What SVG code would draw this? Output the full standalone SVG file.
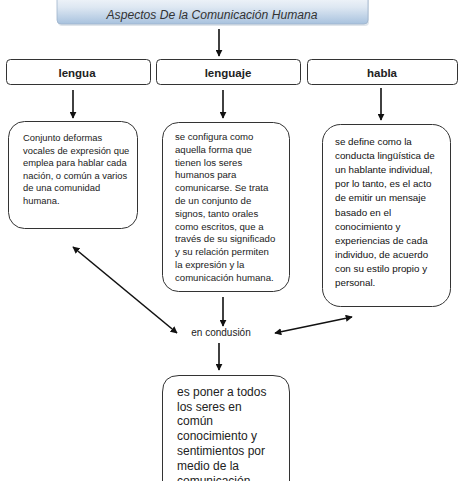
<svg xmlns="http://www.w3.org/2000/svg" width="474" height="481" viewBox="0 0 474 481">
<defs>
<linearGradient id="tg" x1="0" y1="0" x2="0" y2="1">
<stop offset="0" stop-color="#f7f9fc"/>
<stop offset="0.45" stop-color="#dde7f2"/>
<stop offset="1" stop-color="#a8c2de"/>
</linearGradient>
<marker id="ah" viewBox="0 0 10 10" refX="9" refY="5" markerWidth="7" markerHeight="7" markerUnits="userSpaceOnUse" orient="auto-start-reverse">
<path d="M0,0 L10,5 L0,10 z" fill="#111"/>
</marker>
<style>
.box{fill:#fff;stroke:#333;stroke-width:1}
.lbl{font-family:"Liberation Sans",Arial,sans-serif;font-size:11.5px;font-weight:bold;fill:#222;text-anchor:middle}
.t1{font-family:"Liberation Sans",Arial,sans-serif;font-size:9.4px;fill:#222}
.t2{font-family:"Liberation Sans",Arial,sans-serif;font-size:9.6px;fill:#222}
.t3{font-family:"Liberation Sans",Arial,sans-serif;font-size:9.8px;fill:#111}
.t4{font-family:"Liberation Sans",Arial,sans-serif;font-size:12px;fill:#222}
.cn{stroke:#111;stroke-width:1.6;fill:none}
</style>
</defs>
<rect width="474" height="481" fill="#fff"/>

<g id="title">
<rect x="58" y="-6" width="311" height="32" rx="4" fill="#c9d3de" opacity="0.6"/>
<rect x="57" y="-6" width="311" height="30" rx="4" fill="url(#tg)" stroke="#9fb4cc" stroke-width="0.8"/>
<text x="212" y="19" font-family="'Liberation Sans',Arial,sans-serif" font-size="12.5" font-style="italic" fill="#333" text-anchor="middle" textLength="211" lengthAdjust="spacingAndGlyphs">Aspectos De la Comunicación Humana</text>
</g>

<g id="lengua">
<rect class="box" x="6.5" y="59.5" width="144" height="25" rx="4"/>
<text class="lbl" x="77" y="77">lengua</text>
</g>
<g id="lenguaje">
<rect class="box" x="156.5" y="59.5" width="144" height="25" rx="4"/>
<text class="lbl" x="228" y="77">lenguaje</text>
</g>
<g id="habla">
<rect class="box" x="307.5" y="59.5" width="150" height="25" rx="4"/>
<text class="lbl" x="382" y="77">habla</text>
</g>

<g id="lengua-def">
<rect class="box" x="8.5" y="121.5" width="129" height="107" rx="16"/>
<text class="t1">
<tspan x="23" y="141">Conjunto deformas</tspan>
<tspan x="23" y="153.6">vocales de expresión que</tspan>
<tspan x="23" y="166.2">emplea para hablar cada</tspan>
<tspan x="23" y="178.8">nación, o común a varios</tspan>
<tspan x="23" y="191.4">de una comunidad</tspan>
<tspan x="23" y="204">humana.</tspan>
</text>
</g>

<g id="lenguaje-def">
<rect class="box" x="162.5" y="122.5" width="127" height="169" rx="16"/>
<text class="t2">
<tspan x="175" y="140">se configura como</tspan>
<tspan x="175" y="152.8">aquella forma que</tspan>
<tspan x="175" y="165.6">tienen los seres</tspan>
<tspan x="175" y="178.4">humanos para</tspan>
<tspan x="175" y="191.2">comunicarse. Se trata</tspan>
<tspan x="175" y="204">de un conjunto de</tspan>
<tspan x="175" y="216.8">signos, tanto orales</tspan>
<tspan x="175" y="229.6">como escritos, que a</tspan>
<tspan x="175" y="242.4">través de su significado</tspan>
<tspan x="175" y="255.2">y su relación permiten</tspan>
<tspan x="175" y="268">la expresión y la</tspan>
<tspan x="175" y="280.8">comunicación humana.</tspan>
</text>
</g>

<g id="habla-def">
<rect class="box" x="322.5" y="124.5" width="128" height="182" rx="18"/>
<text class="t3">
<tspan x="335" y="145">se define como la</tspan>
<tspan x="335" y="159.1">conducta lingüística de</tspan>
<tspan x="335" y="173.2">un hablante individual,</tspan>
<tspan x="335" y="187.3">por lo tanto, es el acto</tspan>
<tspan x="335" y="201.4">de emitir un mensaje</tspan>
<tspan x="335" y="215.5">basado en el</tspan>
<tspan x="335" y="229.6">conocimiento y</tspan>
<tspan x="335" y="243.7">experiencias de cada</tspan>
<tspan x="335" y="257.8">individuo, de acuerdo</tspan>
<tspan x="335" y="271.9">con su estilo propio y</tspan>
<tspan x="335" y="286">personal.</tspan>
</text>
</g>

<g id="conclusion">
<text x="221" y="336" font-family="'Liberation Sans',Arial,sans-serif" font-size="10" fill="#222" text-anchor="middle">en condusión</text>
</g>

<g id="conclusion-def">
<path class="box" d="M162.5,495 V392 Q162.5,375.5 179,375.5 H273 Q289.5,375.5 289.5,392 V495"/>
<text class="t4">
<tspan x="177" y="396">es poner a todos</tspan>
<tspan x="177" y="410.7">los seres en</tspan>
<tspan x="177" y="425.4">común</tspan>
<tspan x="177" y="440.1">conocimiento y</tspan>
<tspan x="177" y="454.8">sentimientos por</tspan>
<tspan x="177" y="469.5">medio de la</tspan>
<tspan x="177" y="484.5">comunicación</tspan>
</text>
</g>

<g id="connectors">
<line class="cn" x1="219" y1="29" x2="219" y2="56" marker-end="url(#ah)"/>
<line class="cn" x1="73" y1="90" x2="73" y2="118" marker-end="url(#ah)"/>
<line class="cn" x1="223" y1="90" x2="223" y2="118" marker-end="url(#ah)"/>
<line class="cn" x1="381" y1="88" x2="381" y2="120" marker-end="url(#ah)"/>
<line class="cn" x1="223" y1="297" x2="223" y2="326" marker-end="url(#ah)"/>
<line class="cn" x1="219" y1="343" x2="219" y2="370" marker-end="url(#ah)"/>
<line class="cn" x1="73" y1="247" x2="177" y2="333" marker-start="url(#ah)" marker-end="url(#ah)"/>
<line class="cn" x1="275" y1="333" x2="352" y2="317" marker-start="url(#ah)" marker-end="url(#ah)"/>
</g>
</svg>
